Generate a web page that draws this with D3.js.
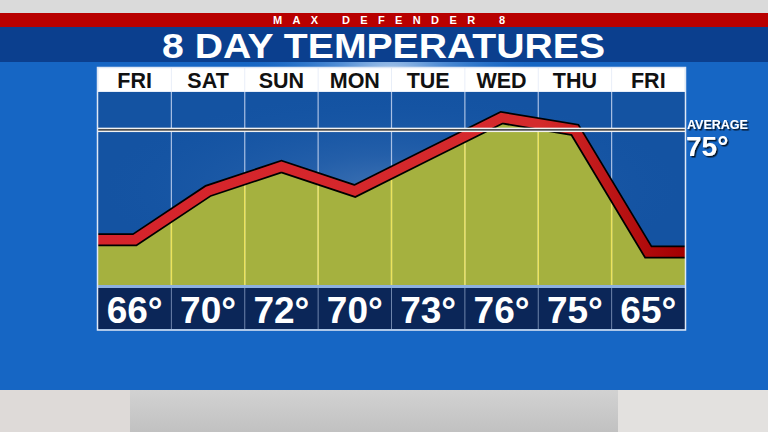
<!DOCTYPE html>
<html>
<head>
<meta charset="utf-8">
<script src="https://cdn.jsdelivr.net/npm/d3@7"></script>
<style>
  html, body { margin: 0; padding: 0; background: #c8c8c8; }
  svg { display: block; }
</style>
</head>
<body>
<div id="content"></div>
<script>
var days = ["FRI", "SAT", "SUN", "MON", "TUE", "WED", "THU", "FRI"];
var temps = [66, 70, 72, 70, 73, 76, 75, 65];
var average = 75;
var titleText = "8 DAY TEMPERATURES";
var brandText = "MAX DEFENDER 8";

var frameWidth = 768;
var frameHeight = 432;

var chartLeft = 98, chartRight = 685;
var headTop = 68, headBottom = 92;
var plotBottom = 285;
var valTop = 288, valBottom = 329;

var frame = d3.select("#content").append("svg")
                                    .attr("width", frameWidth)
                                    .attr("height", frameHeight)
                                    .attr("font-family", "'Liberation Sans', Arial, sans-serif");

var defs = frame.append("defs");
var glow = defs.append("radialGradient").attr("id", "glow")
                  .attr("cx", 0.5).attr("cy", 0.5).attr("r", 0.5);
glow.append("stop").attr("offset", "0%").attr("stop-color", "#ffffff").attr("stop-opacity", 0.75);
glow.append("stop").attr("offset", "35%").attr("stop-color", "#c8dcf6").attr("stop-opacity", 0.35);
glow.append("stop").attr("offset", "100%").attr("stop-color", "#1565c0").attr("stop-opacity", 0);

var grayGrad = defs.append("linearGradient").attr("id", "grayGrad")
                  .attr("x1", 0).attr("y1", 0).attr("x2", 0).attr("y2", 1);
grayGrad.append("stop").attr("offset", "0%").attr("stop-color", "#d2d2d2");
grayGrad.append("stop").attr("offset", "100%").attr("stop-color", "#c1c1c1");

var redGrad = defs.append("linearGradient").attr("id", "redGrad")
                  .attr("gradientUnits", "userSpaceOnUse")
                  .attr("x1", chartLeft).attr("y1", 0).attr("x2", chartRight).attr("y2", 0);
redGrad.append("stop").attr("offset", "0%").attr("stop-color", "#d6232b");
redGrad.append("stop").attr("offset", "75%").attr("stop-color", "#d42a2c");
redGrad.append("stop").attr("offset", "100%").attr("stop-color", "#a30000");

var shadow = defs.append("filter").attr("id", "shadow")
                  .attr("x", -0.2).attr("y", -0.2).attr("width", 1.4).attr("height", 1.4);
shadow.append("feDropShadow").attr("dx", 1.5).attr("dy", 1.5).attr("stdDeviation", 0.6)
                  .attr("flood-color", "#000").attr("flood-opacity", 0.8);

// background sky
frame.append("rect").attr("x", 0).attr("y", 0).attr("width", frameWidth).attr("height", 390)
                  .attr("fill", "#1666c4");
frame.append("ellipse").attr("cx", 390).attr("cy", 78).attr("rx", 150).attr("ry", 95)
                  .attr("fill", "url(#glow)");

// top and bottom gray bands
frame.append("rect").attr("x", 0).attr("y", 0).attr("width", frameWidth).attr("height", 13)
                  .attr("fill", "#dadada");
frame.append("rect").attr("x", 0).attr("y", 390).attr("width", frameWidth).attr("height", 42)
                  .attr("fill", "url(#grayGrad)");
frame.append("rect").attr("x", 0).attr("y", 390).attr("width", 130).attr("height", 42)
                  .attr("fill", "#dedad8");
frame.append("rect").attr("x", 618).attr("y", 390).attr("width", 150).attr("height", 42)
                  .attr("fill", "#e3e1df");

// title bands
frame.append("rect").attr("x", 0).attr("y", 13).attr("width", frameWidth).attr("height", 14)
                  .attr("fill", "#b80000");
frame.append("rect").attr("x", 0).attr("y", 27).attr("width", frameWidth).attr("height", 35)
                  .attr("fill", "#0b3f8e");
frame.append("text").attr("x", 389).attr("y", 23.5)
                  .attr("text-anchor", "middle")
                  .attr("fill", "#fff").attr("font-weight", "bold").attr("font-size", 11)
                  .attr("textLength", 232).attr("lengthAdjust", "spacing")
                  .text(brandText);
frame.append("text").attr("x", 383.5).attr("y", 57.5)
                  .attr("text-anchor", "middle")
                  .attr("fill", "#fff").attr("font-weight", "bold").attr("font-size", 35)
                  .attr("textLength", 443).attr("lengthAdjust", "spacingAndGlyphs")
                  .text(titleText);

// scales
var x = d3.scaleBand().domain(d3.range(days.length)).range([chartLeft, chartRight]).padding(0);
var y = d3.scaleLinear().domain([62.3, 78.1]).range([plotBottom, headBottom]);

// chart panel
frame.append("rect").attr("x", chartLeft).attr("y", headTop)
                  .attr("width", chartRight - chartLeft).attr("height", valBottom - headTop)
                  .attr("fill", "#e8eef8");
frame.append("rect").attr("x", chartLeft).attr("y", headBottom)
                  .attr("width", chartRight - chartLeft).attr("height", plotBottom - headBottom)
                  .attr("fill", "#0c4d9f").attr("opacity", 0.97);
frame.append("rect").attr("x", chartLeft).attr("y", headBottom)
                  .attr("width", chartRight - chartLeft).attr("height", plotBottom - headBottom)
                  .attr("fill", "url(#glow)").attr("opacity", 0.25);

// header cells
frame.append("g").selectAll("rect").data(days).join("rect")
                  .attr("x", function(d, i) { return x(i) + 0.5; })
                  .attr("y", headTop)
                  .attr("width", x.bandwidth() - 1)
                  .attr("height", headBottom - headTop - 1)
                  .attr("fill", "#ffffff");
frame.append("g").selectAll("text").data(days).join("text")
                  .attr("x", function(d, i) { return x(i) + x.bandwidth() / 2; })
                  .attr("y", 88)
                  .attr("text-anchor", "middle")
                  .attr("font-weight", "bold").attr("font-size", 21.5)
                  .attr("fill", "#111")
                  .text(function(d) { return d; });

// temperature points: flat start at left edge, column centers, flat end at right edge
var pts = temps.map(function(t, i) { return [x(i) + x.bandwidth() / 2, y(t)]; });
pts.unshift([chartLeft, y(temps[0])]);
pts.push([chartRight, y(temps[temps.length - 1])]);

var area = d3.area().x(function(d) { return d[0]; }).y0(plotBottom).y1(function(d) { return d[1]; });
var line = d3.line().x(function(d) { return d[0]; }).y(function(d) { return d[1]; });

frame.append("path").attr("d", area(pts)).attr("fill", "#a5b13f");

// grid lines
var grid = frame.append("g");
d3.range(1, days.length).forEach(function(i) {
  var gx = x(i);
  grid.append("line").attr("x1", gx).attr("x2", gx).attr("y1", headBottom).attr("y2", plotBottom)
        .attr("stroke", "#a9c0e4").attr("stroke-width", 1.2);
});
var clipId = "belowLine";
defs.append("clipPath").attr("id", clipId).append("path").attr("d", area(pts));
var ygrid = frame.append("g").attr("clip-path", "url(#" + clipId + ")");
d3.range(1, days.length).forEach(function(i) {
  var gx = x(i);
  ygrid.append("line").attr("x1", gx).attr("x2", gx).attr("y1", headBottom).attr("y2", plotBottom)
        .attr("stroke", "#ece35c").attr("stroke-width", 1.5);
});

// red temperature line
defs.append("clipPath").attr("id", "panelClip").append("rect")
        .attr("x", chartLeft).attr("y", headBottom)
        .attr("width", chartRight - chartLeft).attr("height", plotBottom - headBottom);
var lineGroup = frame.append("g").attr("clip-path", "url(#panelClip)");
lineGroup.append("path").attr("d", line(pts))
        .attr("fill", "none").attr("stroke", "#000").attr("stroke-width", 13)
        .attr("stroke-linejoin", "miter");
lineGroup.append("path").attr("d", line(pts))
        .attr("fill", "none").attr("stroke", "url(#redGrad)").attr("stroke-width", 9.5)
        .attr("stroke-linejoin", "miter");

// average line
var ay = y(average);
frame.append("rect").attr("x", chartLeft).attr("y", ay - 2.2).attr("width", chartRight - chartLeft).attr("height", 4.4)
        .attr("fill", "#f2f2f2");
frame.append("rect").attr("x", chartLeft).attr("y", ay - 0.8).attr("width", chartRight - chartLeft).attr("height", 1.6)
        .attr("fill", "#444");
frame.append("text").attr("x", 687).attr("y", 128.5)
        .attr("fill", "#fff").attr("font-weight", "bold").attr("font-size", 12.5)
        .attr("filter", "url(#shadow)")
        .text("AVERAGE");
frame.append("text").attr("x", 686).attr("y", 156)
        .attr("fill", "#fff").attr("font-weight", "bold").attr("font-size", 28)
        .attr("filter", "url(#shadow)")
        .text(average + "°");

// separator and values row
frame.append("rect").attr("x", chartLeft).attr("y", plotBottom).attr("width", chartRight - chartLeft).attr("height", valTop - plotBottom)
        .attr("fill", "#8db0df");
frame.append("rect").attr("x", chartLeft).attr("y", valTop).attr("width", chartRight - chartLeft).attr("height", valBottom - valTop)
        .attr("fill", "#0b2658");
d3.range(1, days.length).forEach(function(i) {
  frame.append("line").attr("x1", x(i)).attr("x2", x(i)).attr("y1", valTop).attr("y2", valBottom)
        .attr("stroke", "#6f85ab").attr("stroke-width", 1);
});
frame.append("g").selectAll("text").data(temps).join("text")
        .attr("x", function(d, i) { return x(i) + x.bandwidth() / 2; })
        .attr("y", 323)
        .attr("text-anchor", "middle")
        .attr("fill", "#fff").attr("font-weight", "bold").attr("font-size", 37)
        .text(function(d) { return d + "°"; });

// outer border
frame.append("rect").attr("x", chartLeft - 0.5).attr("y", headTop - 0.5)
        .attr("width", chartRight - chartLeft + 1).attr("height", valBottom - headTop + 1.5)
        .attr("fill", "none").attr("stroke", "#dfe8f5").attr("stroke-width", 1.5);
</script>
</body>
</html>
